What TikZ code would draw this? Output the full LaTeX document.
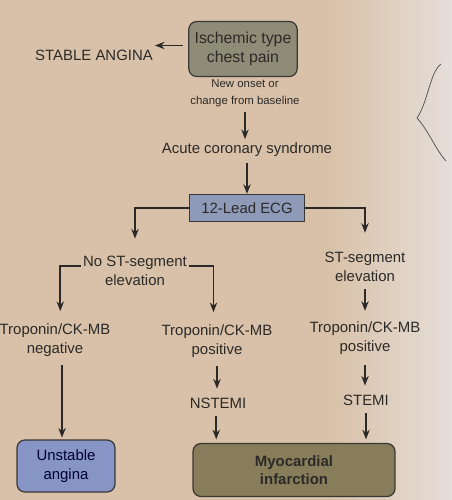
\documentclass[tikz,border=0pt]{standalone}
\usepackage{fontspec}
\setmainfont{Liberation Sans}
\usepackage{tikz}
\usetikzlibrary{arrows.meta, positioning, calc}
\definecolor{papel}{HTML}{D8C1A8}
\definecolor{papelclaro}{HTML}{E6DED9}
\definecolor{tinta}{HTML}{2B2A28}
\definecolor{oliva}{HTML}{8E8C76}
\definecolor{olivaoscuro}{HTML}{877D5A}
\definecolor{azulgris}{HTML}{8E9AB7}
\definecolor{lavanda}{HTML}{8795C6}
\definecolor{borde}{HTML}{3A3834}
\tikzset{
  every picture/.style={font=\fontsize{8.5}{10.5}\selectfont, >=Stealth},
  texto/.style={text=tinta, align=center, inner sep=1pt},
  caja/.style={draw=borde, line width=0.7pt, rounded corners=4.5pt, align=center, text=tinta},
  dolor/.style={caja, fill=oliva, minimum width=2.14cm, minimum height=1.1cm, font=\fontsize{9}{10.8}\selectfont},
  ecg/.style={caja, fill=azulgris, rounded corners=0pt, minimum width=2.3cm, minimum height=0.54cm},
  inestable/.style={caja, fill=lavanda, text=black!80!blue, minimum width=1.96cm, minimum height=1.04cm},
  infarto/.style={caja, fill=olivaoscuro, minimum width=4.04cm, minimum height=1.06cm, font=\fontsize{8.5}{10.5}\selectfont\bfseries},
  flecha/.style={-{Stealth[length=5.5pt, width=4.2pt]}, line width=0.9pt, tinta},
}

\begin{document}
\begin{tikzpicture}[x=0.02cm, y=-0.02cm]
  \useasboundingbox (0,0) rectangle (452,500);
  \fill[papel] (0,0) rectangle (452,500);
  \shade[left color=papel, right color=papelclaro] (330,0) rectangle (452,500);
  \draw[gray!60!black, line width=0.4pt] (441,64) .. controls (430,72) and (428,102) .. (417,118) .. controls (428,130) and (436,150) .. (446,161);

  \node[dolor] (Dol) at (243,49) {Ischemic type\\chest pain};
  \node[texto] (Est) at (94,55) {STABLE ANGINA};
  \node[texto, font=\fontsize{6.5}{9.5}\selectfont] (Ini) at (245,93) {New onset or\\change from baseline};
  \node[texto] (Sca) at (247,150) {Acute coronary syndrome};
  \node[ecg] (Ecg) at (247,208) {12-Lead ECG};
  \node[texto] (NoST) at (135,271) {No ST-segment\\elevation};
  \node[texto] (SiST) at (365,267) {ST-segment\\elevation};
  \node[texto] (Neg) at (55,340) {Troponin/CK-MB\\negative};
  \node[texto] (PosN) at (217,341) {Troponin/CK-MB\\positive};
  \node[texto] (PosS) at (365,338) {Troponin/CK-MB\\positive};
  \node[texto] (Nst) at (218,403) {NSTEMI};
  \node[texto] (Stm) at (366,400) {STEMI};
  \node[inestable] (Ina) at (66,466) {Unstable\\angina};
  \node[infarto] (Inf) at (294,470) {Myocardial\\infarction};

  \draw[flecha, shorten <=3pt] ([yshift=2pt]Dol.west) -- ([yshift=2pt]Dol.west -| Est.east);
  \draw[flecha, shorten <=2pt, shorten >=1pt] (Ini.south) -- (Ini.south |- Sca.north);
  \draw[flecha, shorten <=2pt] (Sca.south) -- (Ecg.north);
  \draw[flecha, shorten >=9pt] (Ecg.west) -| (NoST.north);
  \draw[flecha, shorten >=10pt] (Ecg.east) -| (SiST.north);
  \draw[flecha, shorten >=6pt] ([yshift=3pt]NoST.west) -| ([xshift=3pt]Neg.north);
  \draw[flecha, shorten >=6pt] ([yshift=3pt]NoST.east) -| ([xshift=-2pt]PosN.north);
  \draw[flecha, shorten <=3pt, shorten >=5pt] (SiST.south) -- (PosS.north);
  \draw[flecha, shorten <=4pt, shorten >=1pt] ([xshift=4pt]Neg.south) -- ([xshift=4pt]Neg.south |- Ina.north);
  \draw[flecha, shorten <=4pt, shorten >=4pt] (PosN.south) -- (PosN.south |- Nst.north);
  \draw[flecha, shorten <=3pt, shorten >=2pt] ([xshift=-1pt]Nst.south) -- ([xshift=-1pt]Nst.south |- Inf.north);
  \draw[flecha, shorten <=5pt, shorten >=4pt] (PosS.south) -- (PosS.south |- Stm.north);
  \draw[flecha, shorten <=3pt, shorten >=2pt] (Stm.south) -- (Stm.south |- Inf.north);
\end{tikzpicture}
\end{document}
